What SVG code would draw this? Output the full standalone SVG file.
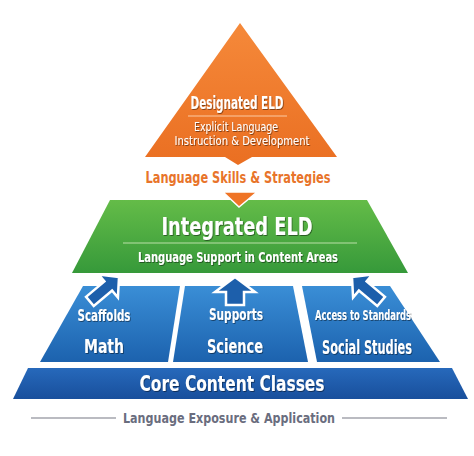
<svg xmlns="http://www.w3.org/2000/svg" width="474" height="456" viewBox="0 0 474 456">
<defs>
<linearGradient id="gOr" x1="0" y1="0" x2="0" y2="1"><stop offset="0" stop-color="#f5893a"/><stop offset="1" stop-color="#ea6f22"/></linearGradient>
<linearGradient id="gGr" x1="0" y1="0" x2="0" y2="1"><stop offset="0" stop-color="#64bc48"/><stop offset="1" stop-color="#36993a"/></linearGradient>
<linearGradient id="gBl" x1="0" y1="0" x2="0" y2="1"><stop offset="0" stop-color="#3a8ed6"/><stop offset="1" stop-color="#1c62ae"/></linearGradient>
<linearGradient id="gCore" x1="0" y1="0" x2="0" y2="1"><stop offset="0" stop-color="#2769bb"/><stop offset="1" stop-color="#184f9c"/></linearGradient>
<filter id="sh" x="-10%" y="-30%" width="120%" height="160%"><feDropShadow dx="0.8" dy="1" stdDeviation="0.7" flood-color="#000" flood-opacity="0.45"/></filter>
</defs>
<style>
text{font-family:"Liberation Sans Narrow","DejaVu Sans Condensed","Liberation Sans",sans-serif;font-weight:bold;text-anchor:middle}
.w{fill:#ffffff;filter:url(#sh)}
.n{font-weight:normal}
.arr{fill:#1d5fab;stroke:#ffffff;stroke-width:2.5;stroke-linejoin:miter}
.rule{stroke-width:1.2}
</style>
<rect width="474" height="456" fill="#ffffff"/>

<g id="designated">
<path d="M240,23 L337,157 L252,157 L238,165 L225,157 L145,157 Z" fill="url(#gOr)"/>
<text class="w" x="237" y="109" font-size="17" textLength="93" lengthAdjust="spacingAndGlyphs">Designated ELD</text>
<line class="rule" x1="188" y1="116" x2="287" y2="116" stroke="#fbc9a4"/>
<text class="w n" x="236" y="131" font-size="13" textLength="84" lengthAdjust="spacingAndGlyphs">Explicit Language</text>
<text class="w n" x="242" y="145" font-size="13" textLength="135" lengthAdjust="spacingAndGlyphs">Instruction &amp; Development</text>
</g>

<g id="skills-label">
<text x="238" y="183" font-size="16" fill="#e8742a" textLength="185" lengthAdjust="spacingAndGlyphs">Language Skills &amp; Strategies</text>
</g>

<g id="integrated">
<path d="M110,200 L367,200 L408,273 L72,273 Z" fill="url(#gGr)"/>
<text class="w" x="237" y="235" font-size="24" textLength="151" lengthAdjust="spacingAndGlyphs">Integrated ELD</text>
<line class="rule" x1="123" y1="243" x2="357" y2="243" stroke="#b9e0a8"/>
<text class="w" x="238" y="262" font-size="14" textLength="200" lengthAdjust="spacingAndGlyphs">Language Support in Content Areas</text>
</g>

<g id="math">
<path d="M83,286 L180,286 L168,362 L40,362 Z" fill="url(#gBl)"/>
<text class="w" x="104" y="321" font-size="15" textLength="53" lengthAdjust="spacingAndGlyphs">Scaffolds</text>
<text class="w" x="104" y="353" font-size="20" textLength="40" lengthAdjust="spacingAndGlyphs">Math</text>
</g>

<g id="science">
<path d="M185,286 L293,286 L308,362 L173,362 Z" fill="url(#gBl)"/>
<text class="w" x="236" y="320" font-size="15" textLength="54" lengthAdjust="spacingAndGlyphs">Supports</text>
<text class="w" x="235" y="353" font-size="20" textLength="56" lengthAdjust="spacingAndGlyphs">Science</text>
</g>

<g id="social">
<path d="M302,286 L390,286 L440,362 L317,362 Z" fill="url(#gBl)"/>
<text class="w" x="363" y="320" font-size="14" textLength="96" lengthAdjust="spacingAndGlyphs">Access to Standards</text>
<text class="w" x="367" y="354" font-size="20" textLength="90" lengthAdjust="spacingAndGlyphs">Social Studies</text>
</g>

<g id="core">
<path d="M28,368 L452,368 L468,399 L13,399 Z" fill="url(#gCore)"/>
<text class="w" x="232" y="391" font-size="21" textLength="185" lengthAdjust="spacingAndGlyphs">Core Content Classes</text>
</g>

<g id="exposure">
<line x1="31" y1="418" x2="116" y2="418" stroke="#a3a4ad" stroke-width="1.6"/>
<line x1="342" y1="418" x2="447" y2="418" stroke="#a3a4ad" stroke-width="1.6"/>
<text x="229" y="423" font-size="14" fill="#6a6d7e" textLength="212" lengthAdjust="spacingAndGlyphs">Language Exposure &amp; Application</text>
</g>

<g id="connectors">
<path d="M223,192 L257,192 L239,207 Z" fill="#ef7426" stroke="#ffffff" stroke-width="1.5"/>
<path class="arr" transform="translate(235,277)" d="M0,0 L20,15 L9,15 L9,28 L-9,28 L-9,15 L-20,15 Z"/>
<path class="arr" transform="translate(119,277) rotate(50)" d="M0,0 L15,14 L6,14 L6,38 L-6,38 L-6,14 L-15,14 Z"/>
<path class="arr" transform="translate(352,277) rotate(-50)" d="M0,0 L15,14 L6,14 L6,38 L-6,38 L-6,14 L-15,14 Z"/>
</g>
</svg>
